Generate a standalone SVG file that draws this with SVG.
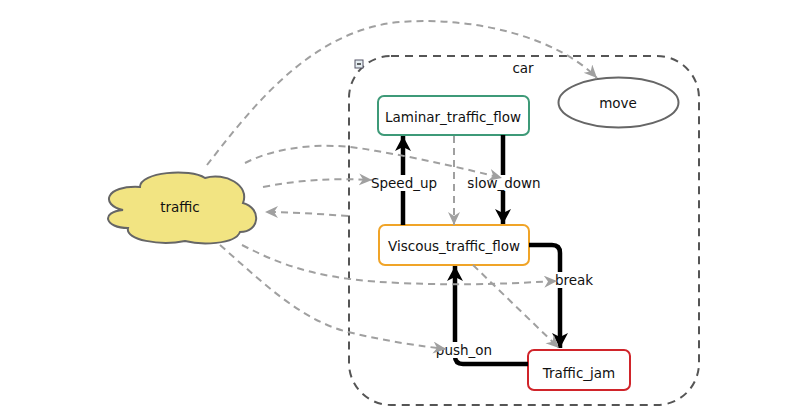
<svg xmlns="http://www.w3.org/2000/svg" width="800" height="420" viewBox="0 0 800 420">
<style>
text{font-family:"DejaVu Sans","Liberation Sans",sans-serif;font-size:13.5px;fill:#111;text-anchor:middle;dominant-baseline:central}
.st{fill:#fff;stroke-width:2}
.dash{fill:none;stroke:#a0a0a0;stroke-width:2;stroke-dasharray:7,5;marker-end:url(#ga)}
.thick{fill:none;stroke:#000;stroke-width:4.5;stroke-linejoin:round;marker-end:url(#ba)}
.lbg{fill:#fff}
</style>
<defs>
<marker id="ga" markerUnits="userSpaceOnUse" markerWidth="16" markerHeight="14" refX="13" refY="6" orient="auto">
<path d="M0,0 L13,6 L0,12 L4,6 Z" fill="#a0a0a0"/>
</marker>
<marker id="ba" markerUnits="userSpaceOnUse" markerWidth="18" markerHeight="18" refX="15" refY="8" orient="auto">
<path d="M0,0 L15,8 L0,16 L4,8 Z" fill="#000"/>
</marker>
</defs>
<g id="car">
<rect x="349" y="56" width="350" height="349" rx="42" fill="none" stroke="#555" stroke-width="2" stroke-dasharray="8,6"/>
<rect x="355" y="60" width="8" height="8" fill="#e6eef2" stroke="#556" stroke-width="1"/>
<line x1="357" y1="64" x2="361" y2="64" stroke="#000" stroke-width="1.2"/>
<text x="523" y="68">car</text>
</g>
<g id="traffic">
<path d="M123,210 C100,205 105,185 140,187 C140,172 190,168 205,178 C225,172 250,185 243,203 C262,208 260,232 240,232 C235,245 200,245 185,241 C160,246 125,240 128,228 C105,228 100,212 123,210 Z" fill="#f2e482" stroke="#666" stroke-width="2"/>
<text x="180" y="207">traffic</text>
</g>
<g id="move">
<ellipse cx="618.5" cy="102.5" rx="60" ry="25" fill="#fff" stroke="#666" stroke-width="2"/>
<text x="618" y="103">move</text>
</g>
<g id="laminar">
<rect class="st" x="378" y="96" width="151" height="39" rx="6" stroke="#3e9a78"/>
<text x="453" y="117">Laminar_traffic_flow</text>
</g>
<g id="viscous">
<rect class="st" x="379" y="225" width="150" height="40" rx="6" stroke="#f0a428"/>
<text x="454" y="246">Viscous_traffic_flow</text>
</g>
<g id="jam">
<rect class="st" x="528" y="350" width="102" height="40" rx="6" stroke="#d0242a"/>
<text x="579" y="373">Traffic_jam</text>
</g>
<g id="connectors">
<path class="thick" d="M403,225 V136"/>
<path class="thick" d="M503,135 V224"/>
<path class="thick" d="M529,245 H552 Q560,245 560,253 V348"/>
<path class="thick" d="M528,364 H463 Q455,364 455,356 V266"/>
<rect class="lbg" x="370" y="175" width="68" height="16"/>
<rect class="lbg" x="468" y="175" width="72" height="16"/>
<rect class="lbg" x="554" y="272" width="40" height="16"/>
<rect class="lbg" x="437" y="342" width="54" height="16"/>
<text x="404" y="183">Speed_up</text>
<text x="504" y="183">slow_down</text>
<text x="574" y="280">break</text>
<text x="464" y="350">push_on</text>
<path class="dash" d="M207,165 C250,110 310,30 400,22 C480,16 560,40 597,78"/>
<path class="dash" d="M245,163 C280,145 330,142 370,150 C420,158 470,170 502,178"/>
<path class="dash" d="M263,187 C300,180 330,178 372,180"/>
<path class="dash" d="M348,216 C320,214 290,212 265,212"/>
<path class="dash" d="M242,245 C290,270 330,280 400,283 C470,286 520,283 557,281"/>
<path class="dash" d="M220,245 C260,280 300,320 348,332 C390,342 420,346 446,349"/>
<path class="dash" d="M454,136 V225"/>
<path class="dash" d="M473,265 L559,348"/>
</g>
</svg>
